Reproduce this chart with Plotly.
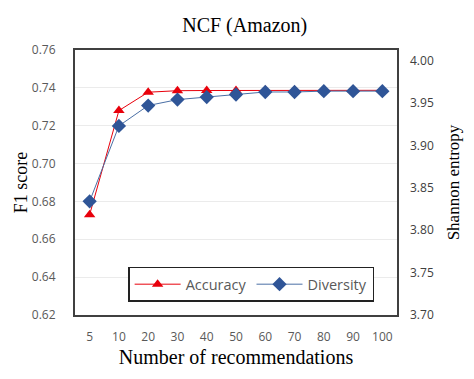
import plotly.graph_objects as go

categories = ["5", "10", "20", "30", "40", "50", "60", "70", "80", "90", "100"]
accuracy = [0.673, 0.728, 0.7377, 0.7385, 0.7386, 0.7386, 0.7387, 0.7387, 0.7387, 0.7387, 0.7387]
diversity = [3.834, 3.923, 3.947, 3.954, 3.957, 3.960, 3.963, 3.963, 3.964, 3.964, 3.964]

left_ticks = [0.62, 0.64, 0.66, 0.68, 0.70, 0.72, 0.74, 0.76]
right_ticks = [3.70, 3.75, 3.80, 3.85, 3.90, 3.95, 4.00]

serif = "Liberation Serif, Times New Roman, serif"
sans = "Open Sans, Noto Sans, sans-serif"

fig = go.Figure()
fig.add_trace(go.Scatter(
    x=categories, y=accuracy, name="Accuracy", mode="lines+markers",
    line=dict(color="#E8000B", width=1),
    marker=dict(symbol="triangle-up", size=10, color="#E8000B"),
    yaxis="y",
))
fig.add_trace(go.Scatter(
    x=categories, y=diversity, name="Diversity", mode="lines+markers",
    line=dict(color="#4A6FA5", width=1),
    marker=dict(symbol="diamond", size=11, color="#2F5597"),
    yaxis="y2",
))

fig.update_layout(
    width=474, height=379,
    margin=dict(l=75, r=77, t=50, b=64),
    paper_bgcolor="white", plot_bgcolor="white",
    title=dict(text="NCF (Amazon)", font=dict(family=serif, size=20, color="black"),
               x=0.527, xanchor="center", y=0.934, yanchor="middle", xref="paper"),
    xaxis=dict(
        type="category", range=[-0.5, 10.5],
        showline=True, mirror=True, linecolor="#404040", linewidth=2,
        showgrid=False, ticks="", ticklabelstandoff=10,
        tickfont=dict(family=sans, size=12, color="#595959"),
        title=dict(text="Number of recommendations", font=dict(family=serif, size=20, color="black"),
                   standoff=6),
    ),
    yaxis=dict(
        range=[0.62, 0.76], tickvals=left_ticks, tickformat=".2f",
        showline=True, mirror=True, linecolor="#404040", linewidth=2,
        showgrid=True, gridcolor="#EBEBEB", gridwidth=1, zeroline=False,
        tickfont=dict(family=sans, size=12, color="#595959"),
        ticks="", ticklabelstandoff=15,
        title=dict(text="F1 score", font=dict(family=serif, size=18, color="black"), standoff=0),
    ),
    yaxis2=dict(
        range=[3.70, 4.0125], tickvals=right_ticks, tickformat=".2f",
        overlaying="y", side="right", showgrid=False, zeroline=False,
        showline=False, ticks="", ticklabelstandoff=12,
        tickfont=dict(family=sans, size=12, color="#404040"),
        title=dict(text="Shannon entropy", font=dict(family=serif, size=17, color="black"), standoff=14),
    ),
    legend=dict(
        orientation="h", x=0.165, y=0.05, xanchor="left", yanchor="bottom",
        bordercolor="#222222", borderwidth=1.5, bgcolor="white",
        font=dict(family=sans, size=14.5, color="#595959"),
        itemwidth=46,
    ),
    showlegend=True,
)

fig.write_html("out.html")
